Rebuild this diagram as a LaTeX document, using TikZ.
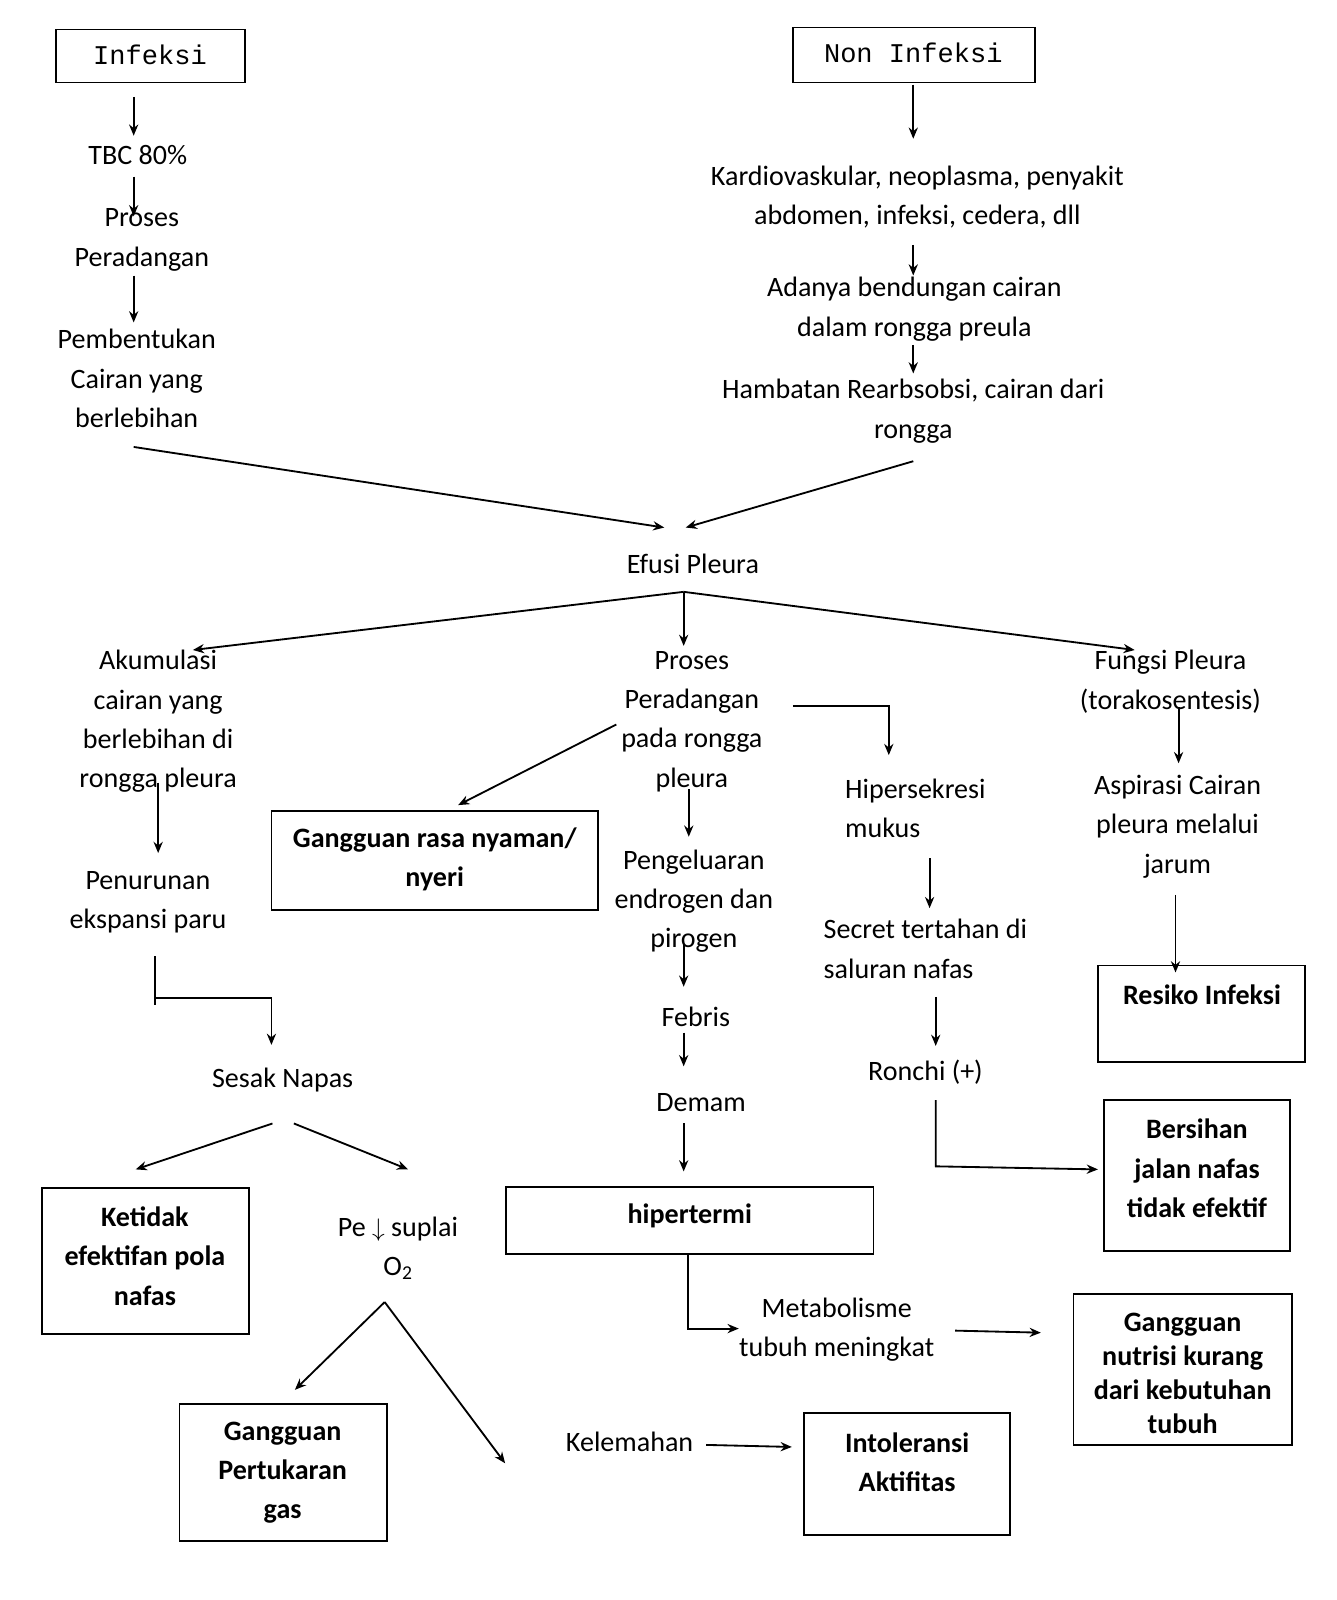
\documentclass[tikz,border=0pt]{standalone}
\usepackage{fontspec}
\setmainfont{Carlito}
\newfontfamily\monof{Liberation Mono}
\usetikzlibrary{arrows.meta}
\begin{document}
\begin{tikzpicture}[x=1pt,y=-1pt,
  t/.style={align=center,inner sep=0pt,font=\fontsize{27.5}{38.5}\selectfont},
  tl/.style={align=left,inner sep=0pt,anchor=west,font=\fontsize{27.5}{38.5}\selectfont},
  bx/.style={draw,line width=1.6pt},
  bt/.style={align=center,inner sep=0pt,font=\fontsize{27.5}{38.5}\selectfont\bfseries},
  ar/.style={line width=1.8pt,-{Stealth[length=11pt,width=9pt]}},
  ln/.style={line width=1.8pt}]
\useasboundingbox (0,0) rectangle (1310,1568);
\fill[white] (0,0) rectangle (1310,1568);
% top boxes
\draw[bx] (55,29) rectangle (240,81);
\node[inner sep=0pt,font=\monof\fontsize{26.5}{30}\selectfont] (inf) at (147,54) {Infeksi};
\draw[bx] (777,27) rectangle (1014,81);
\node[inner sep=0pt,font=\monof\fontsize{26.5}{30}\selectfont] (noninf) at (895,52) {Non Infeksi};
% left column
\node[t] (tbc) at (135,152) {TBC 80\%};
\node[t] (pp1) at (139,235) {Proses\\Peradangan};
\node[t] (pemb) at (134,371) {Pembentukan\\Cairan yang\\berlebihan};
\draw[ar] (131,95) -- (131,133);
\draw[ar] (131,173) -- (131,212);
\draw[ar] (131,270) -- (131,316);
% right column
\node[t] (kard) at (899,193) {Kardiovaskular, neoplasma, penyakit\\abdomen, infeksi, cedera, dll};
\node[t] (adanya) at (896,303) {Adanya bendungan cairan\\dalam rongga preula};
\node[t] (hamb) at (895,403) {Hambatan Rearbsobsi, cairan dari\\rongga};
\draw[ar] (895,83) -- (895,136);
\draw[ar] (895,240) -- (895,270);
\draw[ar] (895,338) -- (895,366);
% efusi
\node[t] (efusi) at (679,553) {Efusi Pleura};
\draw[ar] (131,438) -- (651,517);
\draw[ar] (895,452) -- (672,517);
\coordinate (ef) at (670,580);
\draw[ar] (ef) -- (189,637);
\draw[ar] (ef) -- (670,633);
\draw[ar] (ef) -- (1112,637);
% left branch
\node[t] (akum) at (155,707) {Akumulasi\\cairan yang\\berlebihan di\\rongga pleura};
\draw[ar] (155,767) -- (155,836);
\node[t] (penur) at (145,884) {Penurunan\\ekspansi paru};
\draw[ln] (152,937) -- (152,985);
\draw[ar] (152,978) -- (266,978) -- (266,1024);
\node[t] (sesak) at (277,1058) {Sesak Napas};
\draw[ar] (267,1101) -- (133,1146);
\draw[ar] (288,1101) -- (400,1146);
\draw[bx] (41,1164) rectangle (244,1307);
\node[bt] (ket) at (142,1231) {Ketidak\\efektifan pola\\nafas};
\node[t] (pe) at (390,1223) {Pe $\downarrow$ suplai\\O\textsubscript{2}};
\draw[ar] (377,1276) -- (289,1362);
\draw[ar] (377,1276) -- (495,1434);
\draw[bx] (176,1376) rectangle (379,1510);
\node[bt] (gpg) at (277,1443) {Gangguan\\Pertukaran\\gas};
% middle branch
\node[t] (pp2) at (678,707) {Proses\\Peradangan\\pada rongga\\pleura};
\draw[ar] (604,710) -- (449,789);
\draw[bx] (266,795) rectangle (586,892);
\node[bt] (nyeri) at (426,842) {Gangguan rasa nyaman/\\nyeri};
\draw[ar] (675,773) -- (675,820);
\node[t] (pengel) at (680,883) {Pengeluaran\\endrogen dan\\pirogen};
\draw[ar] (670,925) -- (670,967);
\node[t] (febris) at (682,997) {Febris};
\draw[ar] (670,1012) -- (670,1045);
\node[t] (demam) at (687,1081) {Demam};
\draw[ar] (670,1101) -- (670,1148);
\draw[bx] (496,1163) rectangle (856,1229);
\node[bt] (hiper) at (676,1192) {hipertermi};
\draw[ar] (674,1229) -- (674,1302) -- (724,1302);
\node[t] (metab) at (820,1303) {Metabolisme\\tubuh meningkat};
\draw[ar] (936,1304) -- (1020,1306);
\draw[bx] (1052,1268) rectangle (1266,1416);
\node[bt,font=\fontsize{27.5}{33.5}\selectfont\bfseries] (nutr) at (1159,1346) {Gangguan\\nutrisi kurang\\dari kebutuhan\\tubuh};
\node[t] (lemah) at (617,1413) {Kelemahan};
\draw[ar] (692,1416) -- (776,1418);
\draw[bx] (788,1385) rectangle (990,1504);
\node[bt] (intol) at (889,1433) {Intoleransi\\Aktifitas};
% hipersekresi branch
\draw[ar] (777,692) -- (871,692) -- (871,740);
\node[tl] (hipers) at (828,792) {Hipersekresi\\mukus};
\draw[ar] (911,841) -- (911,890);
\node[tl] (secret) at (807,930) {Secret tertahan di\\saluran nafas};
\draw[ar] (917,977) -- (917,1025);
\node[t] (ronchi) at (907,1051) {Ronchi (+)};
\draw[ar] (917,1078) -- (917,1143) -- (1076,1146);
\draw[bx] (1082,1078) rectangle (1264,1226);
\node[bt] (bers) at (1173,1145) {Bersihan\\jalan nafas\\tidak efektif};
% right branch
\node[t] (fungsi) at (1147,668) {Fungsi Pleura\\(torakosentesis)};
\draw[ar] (1155,693) -- (1155,748);
\node[t] (aspir) at (1154,810) {Aspirasi Cairan\\pleura melalui\\jarum};
\draw[ar] (1152,877) -- (1152,953);
\draw[bx] (1076,946) rectangle (1279,1041);
\node[bt] (resiko) at (1178,975) {Resiko Infeksi};
\end{tikzpicture}
\end{document}
